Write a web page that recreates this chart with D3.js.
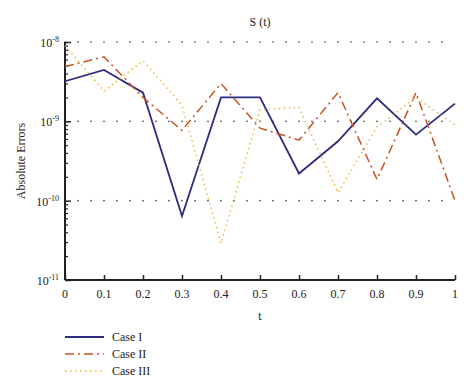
<!DOCTYPE html>
<html lang="en">
<head>
	<meta charset="UTF-8">
	<title>S (t)</title>
	<script type="text/javascript" src="https://cdn.jsdelivr.net/npm/d3@7/dist/d3.min.js"></script>
	<style>
		body {
			margin: 0;
			background: #fff;
		}

		svg text {
			font-family: "Liberation Serif", "DejaVu Serif", serif;
			fill: #222;
		}
	</style>
</head>
<body>
<div id="viz"></div>

<script type="text/javascript">
	var tValues = [0, 0.1, 0.2, 0.3, 0.4, 0.5, 0.6, 0.7, 0.8, 0.9, 1];
	var caseI = [3.2e-9, 4.45e-9, 2.3e-9, 6.4e-11, 2.0e-9, 2.0e-9, 2.2e-10, 5.6e-10, 1.95e-9, 6.8e-10, 1.67e-9];
	var caseII = [4.9e-9, 6.5e-9, 2.0e-9, 7.7e-10, 3.0e-9, 8.2e-10, 5.8e-10, 2.3e-9, 1.85e-10, 2.3e-9, 1.0e-10];
	var caseIII = [9.0e-9, 2.4e-9, 5.8e-9, 1.6e-9, 2.9e-11, 1.4e-9, 1.5e-9, 1.26e-10, 8.5e-10, 2.0e-9, 9.0e-10];
	var xTicks = [0, 0.1, 0.2, 0.3, 0.4, 0.5, 0.6, 0.7, 0.8, 0.9, 1];
	var yTicks = [1e-11, 1e-10, 1e-9, 1e-8];
	var seriesNames = ['Case I', 'Case II', 'Case III'];

	var margin = {top: 42, left: 65, bottom: 111, right: 19};
	var W = 474, H = 391;
	var width = W - margin.left - margin.right;
	var height = H - margin.top - margin.bottom;

	var series = [
		{name: seriesNames[0], values: caseI, color: '#2c2c80', dash: null, width: 1.8},
		{name: seriesNames[1], values: caseII, color: '#c8541f', dash: '9,4,2,4', width: 1.5},
		{name: seriesNames[2], values: caseIII, color: '#f1b53c', dash: '1.5,3.5', width: 1.5}
	];

	var x = d3.scaleLinear().domain([0, 1]).range([0, width]);
	var y = d3.scaleLog().domain([1e-11, 1e-8]).range([height, 0]);

	var svg = d3.select('#viz')
		.append('svg')
		.attr('width', W)
		.attr('height', H);

	var g = svg.append('g')
		.attr('transform', 'translate(' + margin.left + ',' + margin.top + ')');

	// dotted grid lines at decades
	g.selectAll('.grid')
		.data(yTicks.slice(1))
		.enter().append('line')
		.attr('class', 'grid')
		.attr('x1', 0)
		.attr('x2', width)
		.attr('y1', function (d) { return y(d); })
		.attr('y2', function (d) { return y(d); })
		.attr('stroke', '#333')
		.attr('stroke-width', 1.6)
		.attr('stroke-linecap', 'round')
		.attr('stroke-dasharray', '0,13');

	// y axis: minor ticks inside
	var minor = [];
	for (var e = -11; e < -8; e++) {
		for (var k = 2; k <= 9; k++) minor.push(k * Math.pow(10, e));
	}
	var yAxis = d3.axisRight(y).tickValues(minor).tickSize(3).tickFormat('');
	g.append('g').call(yAxis).call(function (s) {
		s.select('.domain').remove();
		s.selectAll('line').attr('stroke', '#222').attr('stroke-width', 1.2);
	});
	var yMajor = d3.axisRight(y).tickValues(yTicks).tickSize(6).tickFormat('');
	g.append('g').call(yMajor).call(function (s) {
		s.select('.domain').remove();
		s.selectAll('line').attr('stroke', '#222').attr('stroke-width', 1.5);
	});
	g.append('line')
		.attr('x1', 0).attr('x2', 0)
		.attr('y1', 0).attr('y2', height)
		.attr('stroke', '#222').attr('stroke-width', 2);

	// y tick labels as 10^n
	var yl = g.selectAll('.ylab')
		.data(yTicks)
		.enter().append('text')
		.attr('class', 'ylab')
		.attr('x', -6)
		.attr('y', function (d) { return y(d) + 5; })
		.attr('text-anchor', 'end')
		.style('font-size', '12px');
	yl.append('tspan').text('10');
	yl.append('tspan')
		.attr('dy', -5)
		.style('font-size', '8px')
		.text(function (d) { return '-' + Math.round(-Math.log10(d)); });

	// x axis
	var xAxis = d3.axisTop(x).tickValues(xTicks).tickSize(5).tickFormat('');
	g.append('g')
		.attr('transform', 'translate(0,' + height + ')')
		.call(xAxis)
		.call(function (s) {
			s.select('.domain').remove();
			s.selectAll('line').attr('stroke', '#222').attr('stroke-width', 1.5);
		});
	g.append('line')
		.attr('x1', 0).attr('x2', width)
		.attr('y1', height).attr('y2', height)
		.attr('stroke', '#222').attr('stroke-width', 2);
	g.selectAll('.xlab')
		.data(xTicks)
		.enter().append('text')
		.attr('class', 'xlab')
		.attr('x', function (d) { return x(d); })
		.attr('y', height + 18)
		.attr('text-anchor', 'middle')
		.style('font-size', '12px')
		.text(function (d) { return d3.format('')(d); });

	// lines
	var line = d3.line()
		.x(function (d, i) { return x(tValues[i]); })
		.y(function (d) { return y(d); });

	g.selectAll('.series')
		.data(series)
		.enter().append('path')
		.attr('class', 'series')
		.attr('fill', 'none')
		.attr('stroke', function (d) { return d.color; })
		.attr('stroke-width', function (d) { return d.width; })
		.attr('stroke-dasharray', function (d) { return d.dash; })
		.attr('d', function (d) { return line(d.values); });

	// titles
	svg.append('text')
		.attr('x', margin.left + width / 2)
		.attr('y', 26)
		.attr('text-anchor', 'middle')
		.style('font-size', '12px')
		.text('S (t)');
	svg.append('text')
		.attr('x', margin.left + width / 2)
		.attr('y', 320)
		.attr('text-anchor', 'middle')
		.style('font-size', '12px')
		.text('t');
	svg.append('text')
		.attr('transform', 'translate(25,' + (margin.top + 119) + ') rotate(-90)')
		.attr('text-anchor', 'middle')
		.style('font-size', '12px')
		.text('Absolute Errors');

	// legend
	var legend = svg.selectAll('.legend')
		.data(series)
		.enter().append('g')
		.attr('class', 'legend')
		.attr('transform', function (d, i) { return 'translate(65,' + (337 + i * 17) + ')'; });
	legend.append('line')
		.attr('x1', 0).attr('x2', 39)
		.attr('stroke', function (d) { return d.color; })
		.attr('stroke-width', function (d) { return d.width; })
		.attr('stroke-dasharray', function (d) { return d.dash; });
	legend.append('text')
		.attr('x', 47)
		.attr('y', 4)
		.style('font-size', '12px')
		.text(function (d) { return d.name; });
</script>
</body>
</html>
